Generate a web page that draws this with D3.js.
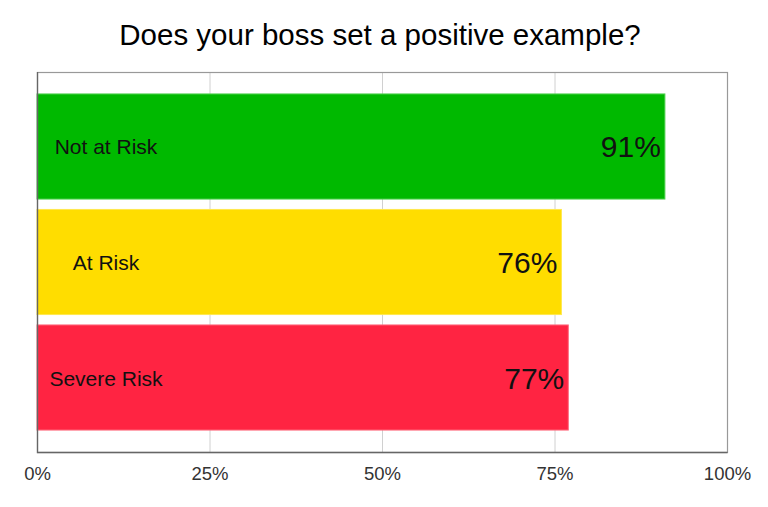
<!DOCTYPE html>
<head>
<title>Does your boss set a positive example?</title>
<script src="https://d3js.org/d3.v7.min.js"></script>
<style>
  body { margin: 0; background: #fff; }
  text { font-family: "Liberation Sans", Arial, Helvetica, sans-serif; }
</style>
</head>
<body>
<div id="home"></div>
<script>
    // chart values
    const categories = ["Not at Risk", "At Risk", "Severe Risk"];
    const values = [91, 76, 77];
    const barColors = ["#00b900", "#ffdd00", "#ff2442"];
    const edgeColors = ["#4fd14f", "#ffe84d", "#ff6a7e"];
    const ticks = [0, 25, 50, 75, 100];

    const w = 768;
    const h = 507;
    const plotLeft = 37, plotRight = 727, plotTop = 72, plotBottom = 452;

    const svg = d3.select("#home")
                  .append("svg")
                  .attr("width", w)
                  .attr("height", h);

    const xScale = d3.scaleLinear()
                     .domain([0, 100])
                     .range([plotLeft, plotRight]);

    const yScale = d3.scaleBand()
                     .domain(categories)
                     .range([plotTop, plotBottom])
                     .paddingInner(0.09)
                     .paddingOuter(0.19);

    // title
    svg.append("text")
       .attr("x", 380)
       .attr("y", 45)
       .attr("text-anchor", "middle")
       .attr("font-size", 29.5)
       .attr("fill", "#000")
       .text("Does your boss set a positive example?");

    // gridlines
    svg.selectAll(".grid")
       .data(ticks.slice(1, -1))
       .enter()
       .append("line")
       .attr("x1", d => xScale(d) + 0.5)
       .attr("x2", d => xScale(d) + 0.5)
       .attr("y1", plotTop)
       .attr("y2", plotBottom)
       .attr("stroke", "#d0d0d0")
       .attr("stroke-width", 1);

    // bars
    svg.selectAll(".bar")
       .data(values)
       .enter()
       .append("rect")
       .attr("x", xScale(0))
       .attr("y", (d, i) => yScale(categories[i]))
       .attr("width", d => xScale(d) - xScale(0))
       .attr("height", yScale.bandwidth())
       .attr("fill", (d, i) => barColors[i])
       .attr("stroke", (d, i) => edgeColors[i])
       .attr("stroke-width", 1);

    // frame: top/right lighter, left/bottom axis darker
    svg.append("rect")
       .attr("x", plotLeft + 0.5)
       .attr("y", plotTop + 0.5)
       .attr("width", plotRight - plotLeft)
       .attr("height", plotBottom - plotTop)
       .attr("fill", "none")
       .attr("stroke", "#999")
       .attr("stroke-width", 1.2);
    svg.append("path")
       .attr("d", "M" + (plotLeft + 0.5) + "," + plotTop + "V" + (plotBottom + 0.5) + "H" + (plotRight + 0.5))
       .attr("fill", "none")
       .attr("stroke", "#666")
       .attr("stroke-width", 1.3);

    // category labels
    svg.selectAll(".cat")
       .data(categories)
       .enter()
       .append("text")
       .attr("x", 106)
       .attr("y", d => yScale(d) + yScale.bandwidth() / 2 + 8)
       .attr("text-anchor", "middle")
       .attr("font-size", 21)
       .attr("fill", "#111")
       .text(d => d);

    // value labels
    svg.selectAll(".val")
       .data(values)
       .enter()
       .append("text")
       .attr("x", d => xScale(d) - 4)
       .attr("y", (d, i) => yScale(categories[i]) + yScale.bandwidth() / 2 + 11)
       .attr("text-anchor", "end")
       .attr("font-size", 30)
       .attr("fill", "#111")
       .text(d => d + "%");

    // x axis labels
    const xAxis = d3.axisBottom(xScale)
                    .tickValues(ticks)
                    .tickSize(0)
                    .tickPadding(0)
                    .tickFormat(d => d + "%");
    const gx = svg.append("g")
       .attr("transform", "translate(0," + (plotBottom + 28) + ")")
       .call(xAxis);
    gx.select(".domain").remove();
    gx.selectAll("text")
      .attr("dy", 0)
      .attr("font-size", 18.5)
      .attr("font-family", "'Liberation Sans', Arial, sans-serif")
      .attr("fill", "#333");
</script>
</body>
